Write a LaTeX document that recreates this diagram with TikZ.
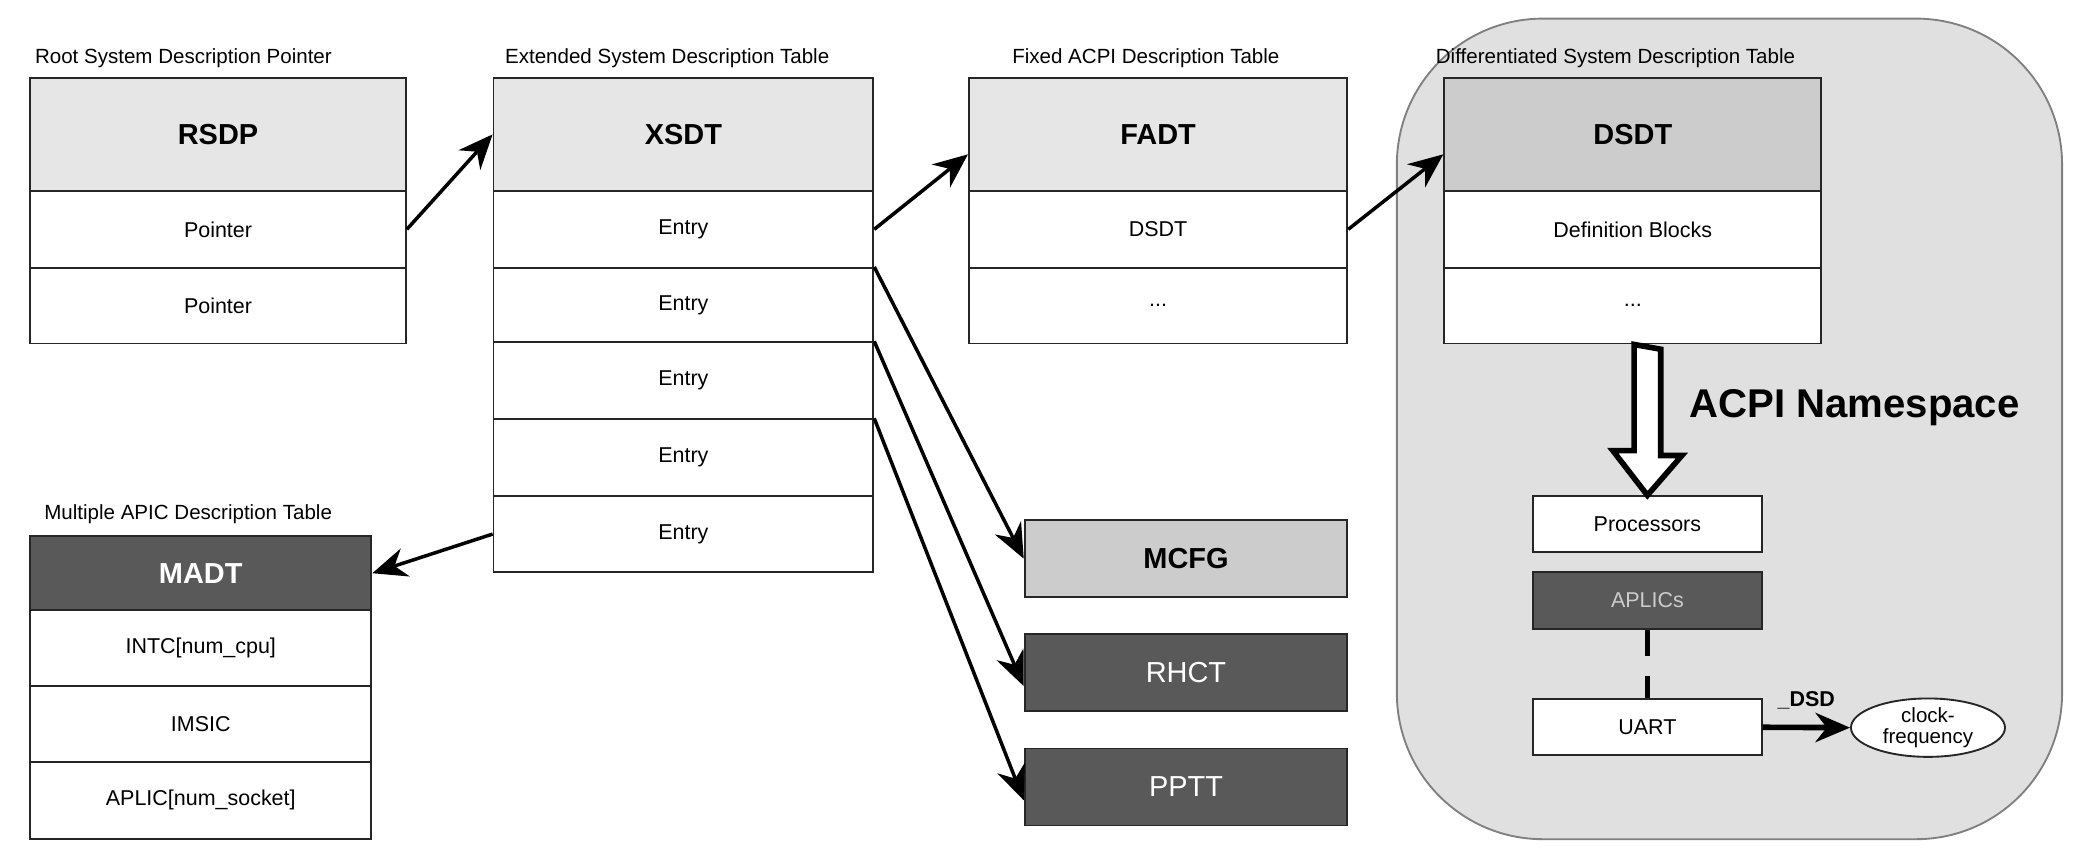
\documentclass[tikz,border=0pt]{standalone}
\usepackage{fontspec}
\setmainfont{Liberation Sans}
\usetikzlibrary{arrows.meta,shapes.geometric}
\definecolor{hdrlight}{HTML}{E6E6E6}
\definecolor{hdrmid}{HTML}{CCCCCC}
\definecolor{hdrdark}{HTML}{595959}
\definecolor{panel}{HTML}{E0E0E0}
\begin{document}
\begin{tikzpicture}[x=0.1mm,y=-0.1mm,
  cell/.style={draw=black!85, fill=white, anchor=north west, inner sep=0pt, font=\fontsize{4.6}{5}\selectfont},
  hdr/.style={cell, fill=hdrlight, font=\fontsize{6.2}{7}\selectfont\bfseries},
  dark/.style={cell, fill=hdrdark, text=white, font=\fontsize{6.2}{7}\selectfont},
  ttl/.style={anchor=west, font=\fontsize{4.4}{5}\selectfont},
  arr/.style={-{Stealth[length=2.6mm,width=2.2mm]}, line width=0.75pt}
]
\useasboundingbox (0,0) rectangle (1568,642);
% DSDT panel
\filldraw[fill=panel, draw=black!50, rounded corners=11mm] (1052,14) rectangle (1553,632);

% RSDP
\node[ttl] (lrsdp) at (14,44) {Root System Description Pointer};
\node[hdr, minimum width=28.3mm, minimum height=8.5mm] (rsdp) at (22,58) {RSDP};
\node[cell, minimum width=28.3mm, minimum height=5.8mm] (rp1) at (22,143) {Pointer};
\node[cell, minimum width=28.3mm, minimum height=5.7mm] (rp2) at (22,201) {Pointer};

% XSDT
\node[ttl] (lxsdt) at (368,44) {Extended System Description Table};
\node[hdr, minimum width=28.6mm, minimum height=8.5mm] (xsdt) at (371,58) {XSDT};
\node[cell, minimum width=28.6mm, minimum height=5.8mm] (e1) at (371,143) {Entry};
\node[cell, minimum width=28.6mm, minimum height=5.6mm] (e2) at (371,201) {Entry};
\node[cell, minimum width=28.6mm, minimum height=5.8mm] (e3) at (371,257) {Entry};
\node[cell, minimum width=28.6mm, minimum height=5.8mm] (e4) at (371,315) {Entry};
\node[cell, minimum width=28.6mm, minimum height=5.7mm] (e5) at (371,373) {Entry};

% FADT
\node[ttl] (lfadt) at (750,44) {Fixed ACPI Description Table};
\node[hdr, minimum width=28.5mm, minimum height=8.5mm] (fadt) at (729,58) {FADT};
\node[cell, minimum width=28.5mm, minimum height=5.8mm] (f1) at (729,143) {DSDT};
\node[cell, minimum width=28.5mm, minimum height=5.7mm] (f2) at (729,201) {...};

% DSDT
\node[ttl] (ldsdt) at (1069,44) {Differentiated System Description Table};
\node[hdr, fill=hdrmid, minimum width=28.4mm, minimum height=8.5mm] (dsdt) at (1087,58) {DSDT};
\node[cell, minimum width=28.4mm, minimum height=5.8mm] (d1) at (1087,143) {Definition Blocks};
\node[cell, minimum width=28.4mm, minimum height=5.7mm] (d2) at (1087,201) {...};

% MADT
\node[ttl] (lmadt) at (21,387) {Multiple APIC Description Table};
\node[dark, font=\fontsize{6.2}{7}\selectfont\bfseries, minimum width=25.7mm, minimum height=5.6mm] (madt) at (22,403) {MADT};
\node[cell, minimum width=25.7mm, minimum height=5.7mm] (m1) at (22,459) {INTC[num\_cpu]};
\node[cell, minimum width=25.7mm, minimum height=5.7mm] (m2) at (22,516) {IMSIC};
\node[cell, minimum width=25.7mm, minimum height=5.8mm] (m3) at (22,573) {APLIC[num\_socket]};

% other tables
\node[hdr, fill=hdrmid, minimum width=24.3mm, minimum height=5.8mm] (mcfg) at (771,391) {MCFG};
\node[dark, minimum width=24.3mm, minimum height=5.8mm] (rhct) at (771,477) {RHCT};
\node[dark, minimum width=24.3mm, minimum height=5.8mm] (pptt) at (771,563) {PPTT};

% namespace
\node[cell, minimum width=17.2mm, minimum height=4.2mm] (proc) at (1154,373) {Processors};
\node[cell, fill=hdrdark, text=black!20, minimum width=17.2mm, minimum height=4.3mm] (aplic) at (1154,430) {APLICs};
\node[cell, minimum width=17.2mm, minimum height=4.2mm] (uart) at (1154,526) {UART};
\node[draw=black!85, fill=white, ellipse, minimum width=11.6mm, minimum height=4.4mm, inner sep=0pt, align=center, font=\fontsize{4.4}{4.6}\selectfont] (clk) at (1452,548) {clock-\\frequency};
\node[anchor=west, font=\fontsize{8.6}{9}\selectfont\bfseries] (ns) at (1260,307) {ACPI Namespace};

% connectors
\draw[arr] (rp1.east) -- (xsdt.west);
\draw[arr] (e1.east) -- ([yshift=-1.5mm]fadt.west);
\draw[arr] (f1.east) -- ([yshift=-1.5mm]dsdt.west);
\draw[arr] (e2.north east) -- (mcfg.west);
\draw[arr] (e3.north east) -- ([yshift=-1mm]rhct.west);
\draw[arr] (e4.north east) -- ([yshift=-1mm]pptt.west);
\draw[arr] (e5.west) -- (madt.east);
\draw[line width=1pt, dash pattern=on 2mm off 1.5mm] (aplic.south) -- (uart.north);
\draw[arr, line width=1.2pt] (uart.east) -- node[above, font=\fontsize{4.6}{5}\selectfont\bfseries] {\_DSD} (clk.west);
\draw[line width=1.2pt, fill=white] ([xshift=0.1mm]d2.south) -- ++(0,80) -- ++(-16,0) -- (proc.north) -- ++(26,-30) -- ++(-16,0) -- ++(0,-80) -- cycle;
\end{tikzpicture}
\end{document}
